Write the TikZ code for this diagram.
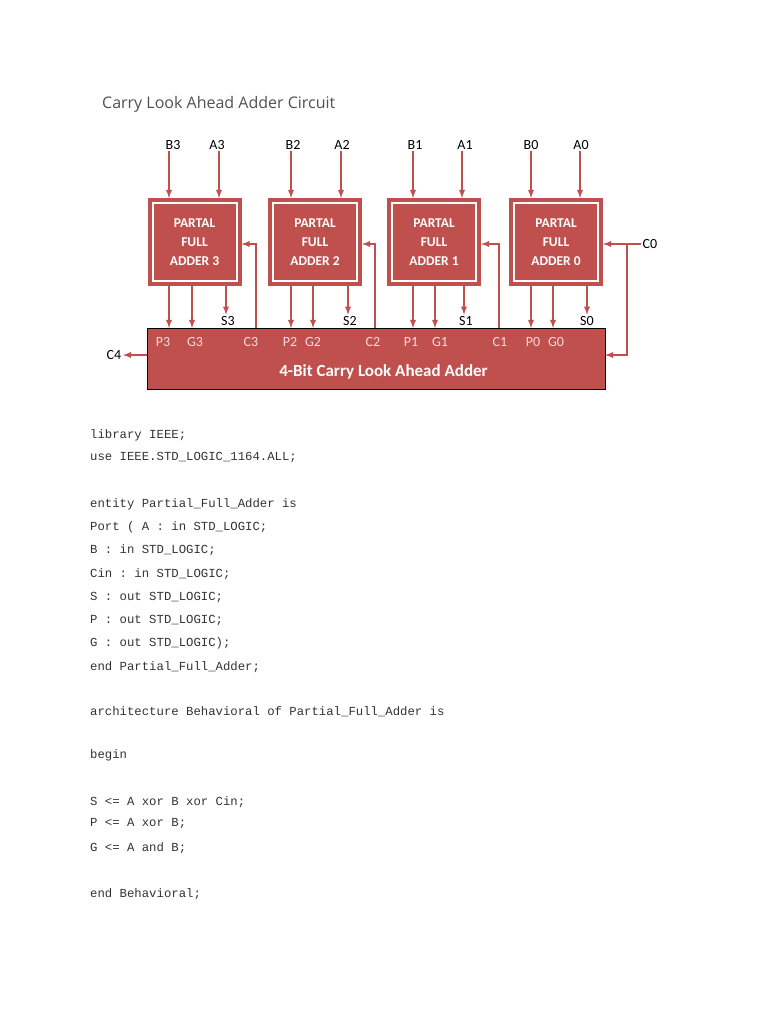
\documentclass[tikz,border=0pt]{standalone}
\usepackage{fontspec}
\setmainfont{Carlito}
\setmonofont{Liberation Mono}
\newfontfamily\headfont{Open Sans}
\usepackage{tikz}
\definecolor{adderred}{HTML}{C0504D}
\definecolor{portpink}{HTML}{F2DCDB}
\definecolor{headgray}{HTML}{505050}
\definecolor{codegray}{HTML}{333333}

\begin{document}
\begin{tikzpicture}[x=1pt,y=-1pt]
    \tikzset{fulladder/.style = {shape=rectangle, draw=adderred, fill=adderred, line width=4pt, double=white, double distance=2pt,
        minimum width=84pt, minimum height=78pt, inner sep=0pt, outer sep=5pt, text=white, align=center,
        font=\bfseries\fontsize{13.5}{19}\selectfont}}
    \tikzset{lookahead/.style = {shape=rectangle, draw=black, fill=adderred, line width=0.6pt, minimum width=458pt, minimum height=61pt,
        inner sep=0pt, outer sep=0pt}}
    \tikzset{portin/.style = {inner sep=1.5pt, font=\fontsize{14}{16}\selectfont, text=black}}
    \tikzset{portout/.style = {inner sep=1.5pt, font=\fontsize{14}{16}\selectfont, text=portpink}}
    \tikzset{signal/.style = {draw=adderred, line width=1.8pt, -latex}}
    \tikzset{codeline/.style = {anchor=base west, inner sep=0pt, text=codegray, font=\ttfamily\fontsize{12.3}{14}\selectfont}}

    \useasboundingbox (0,0) rectangle (768,1024);

    % title
    \node[anchor=base west, inner sep=0pt, text=headgray, font=\headfont\fontsize{16}{18}\selectfont] (title) at (102,109) {Carry Look Ahead Adder Circuit};

    % adders
    \node[fulladder] (fa3) at (194.5,242) {PARTAL\\FULL\\ADDER 3};
    \node[fulladder] (fa2) at (315,242) {PARTAL\\FULL\\ADDER 2};
    \node[fulladder] (fa1) at (434,242) {PARTAL\\FULL\\ADDER 1};
    \node[fulladder] (fa0) at (556,242) {PARTAL\\FULL\\ADDER 0};
    \node[lookahead] (cla) at (376,358.5) {};
    \node[text=white, inner sep=0pt, font=\bfseries\fontsize{17}{20}\selectfont] (clatext) at (383.5,372) {4-Bit Carry Look Ahead Adder};

    % inputs
    \node[portin] (b3) at (173,145) {B3};
    \node[portin] (a3) at (217,145) {A3};
    \node[portin] (b2) at (293,145) {B2};
    \node[portin] (a2) at (342,145) {A2};
    \node[portin] (b1) at (415,145) {B1};
    \node[portin] (a1) at (465,145) {A1};
    \node[portin] (b0) at (531,145) {B0};
    \node[portin] (a0) at (581,145) {A0};
    \node[portin] (c0) at (650,244) {C0};
    \node[portin] (c4) at (114,355) {C4};

    % sums
    \node[portin] (s3) at (228,321) {S3};
    \node[portin] (s2) at (350,321) {S2};
    \node[portin] (s1) at (466,321) {S1};
    \node[portin] (s0) at (587,321) {S0};

    % ports of the look ahead block
    \node[portout] (p3) at (163,342) {P3};
    \node[portout] (g3) at (195,342) {G3};
    \node[portout] (c3) at (251,342) {C3};
    \node[portout] (p2) at (290,342) {P2};
    \node[portout] (g2) at (313,342) {G2};
    \node[portout] (c2) at (373,342) {C2};
    \node[portout] (p1) at (411,342) {P1};
    \node[portout] (g1) at (440,342) {G1};
    \node[portout] (c1) at (500,342) {C1};
    \node[portout] (p0) at (533,342) {P0};
    \node[portout] (g0) at (556,342) {G0};

    % edges
    \draw[signal] ([xshift=-4pt]b3.south) -- ([xshift=-4pt]b3.south |- fa3.north);
    \draw[signal] ([xshift=2pt]a3.south) -- ([xshift=2pt]a3.south |- fa3.north);
    \draw[signal] ([xshift=-2pt]b2.south) -- ([xshift=-2pt]b2.south |- fa2.north);
    \draw[signal] ([xshift=-1pt]a2.south) -- ([xshift=-1pt]a2.south |- fa2.north);
    \draw[signal] ([xshift=-2pt]b1.south) -- ([xshift=-2pt]b1.south |- fa1.north);
    \draw[signal] ([xshift=-3pt]a1.south) -- ([xshift=-3pt]a1.south |- fa1.north);
    \draw[signal] (b0.south) -- (b0.south |- fa0.north);
    \draw[signal] ([xshift=-1pt]a0.south) -- ([xshift=-1pt]a0.south |- fa0.north);

    \draw[signal] ([xshift=6pt]p3.north |- fa3.south) -- ([xshift=6pt]p3.north |- cla.north);
    \draw[signal] ([xshift=-3pt]g3.north |- fa3.south) -- ([xshift=-3pt]g3.north |- cla.north);
    \draw[signal] ([xshift=-2pt]s3.north |- fa3.south) -- ([xshift=-2pt]s3.north);
    \draw[signal] ([xshift=1pt]p2.north |- fa2.south) -- ([xshift=1pt]p2.north |- cla.north);
    \draw[signal] (g2.north |- fa2.south) -- (g2.north |- cla.north);
    \draw[signal] ([xshift=-2pt]s2.north |- fa2.south) -- ([xshift=-2pt]s2.north);
    \draw[signal] ([xshift=2pt]p1.north |- fa1.south) -- ([xshift=2pt]p1.north |- cla.north);
    \draw[signal] ([xshift=-5pt]g1.north |- fa1.south) -- ([xshift=-5pt]g1.north |- cla.north);
    \draw[signal] ([xshift=-2pt]s1.north |- fa1.south) -- ([xshift=-2pt]s1.north);
    \draw[signal] ([xshift=-2pt]p0.north |- fa0.south) -- ([xshift=-2pt]p0.north |- cla.north);
    \draw[signal] ([xshift=-3pt]g0.north |- fa0.south) -- ([xshift=-3pt]g0.north |- cla.north);
    \draw[signal] (s0.north |- fa0.south) -- (s0.north);

    \draw[signal] ([xshift=5pt]c3.north |- cla.north) |- (fa3.east |- c0);
    \draw[signal] ([xshift=2pt]c2.north |- cla.north) |- (fa2.east |- c0);
    \draw[signal] ([xshift=-1pt]c1.north |- cla.north) |- (fa1.east |- c0);
    \draw[signal] (c0.west) -- (c0.west -| fa0.east);
    \coordinate (c0fork) at (627,244);
    \draw[signal] (c0fork) |- (c4 -| cla.east);
    \draw[signal] (c4 -| cla.west) -- (c4.east);

    % code
    \node[codeline] (l1) at (90,438) {library IEEE;};
    \node[codeline] (l2) at (90,460) {use IEEE.STD\_LOGIC\_1164.ALL;};
    \node[codeline] (l3) at (90,507) {entity Partial\_Full\_Adder is};
    \node[codeline] (l4) at (90,530) {Port ( A : in STD\_LOGIC;};
    \node[codeline] (l5) at (90,553) {B : in STD\_LOGIC;};
    \node[codeline] (l6) at (90,577) {Cin : in STD\_LOGIC;};
    \node[codeline] (l7) at (90,600) {S : out STD\_LOGIC;};
    \node[codeline] (l8) at (90,623) {P : out STD\_LOGIC;};
    \node[codeline] (l9) at (90,646) {G : out STD\_LOGIC);};
    \node[codeline] (l10) at (90,670) {end Partial\_Full\_Adder;};
    \node[codeline] (l11) at (90,715) {architecture Behavioral of Partial\_Full\_Adder is};
    \node[codeline] (l12) at (90,758) {begin};
    \node[codeline] (l13) at (90,805) {S <= A xor B xor Cin;};
    \node[codeline] (l14) at (90,826) {P <= A xor B;};
    \node[codeline] (l15) at (90,851) {G <= A and B;};
    \node[codeline] (l16) at (90,897) {end Behavioral;};
\end{tikzpicture}
\end{document}
